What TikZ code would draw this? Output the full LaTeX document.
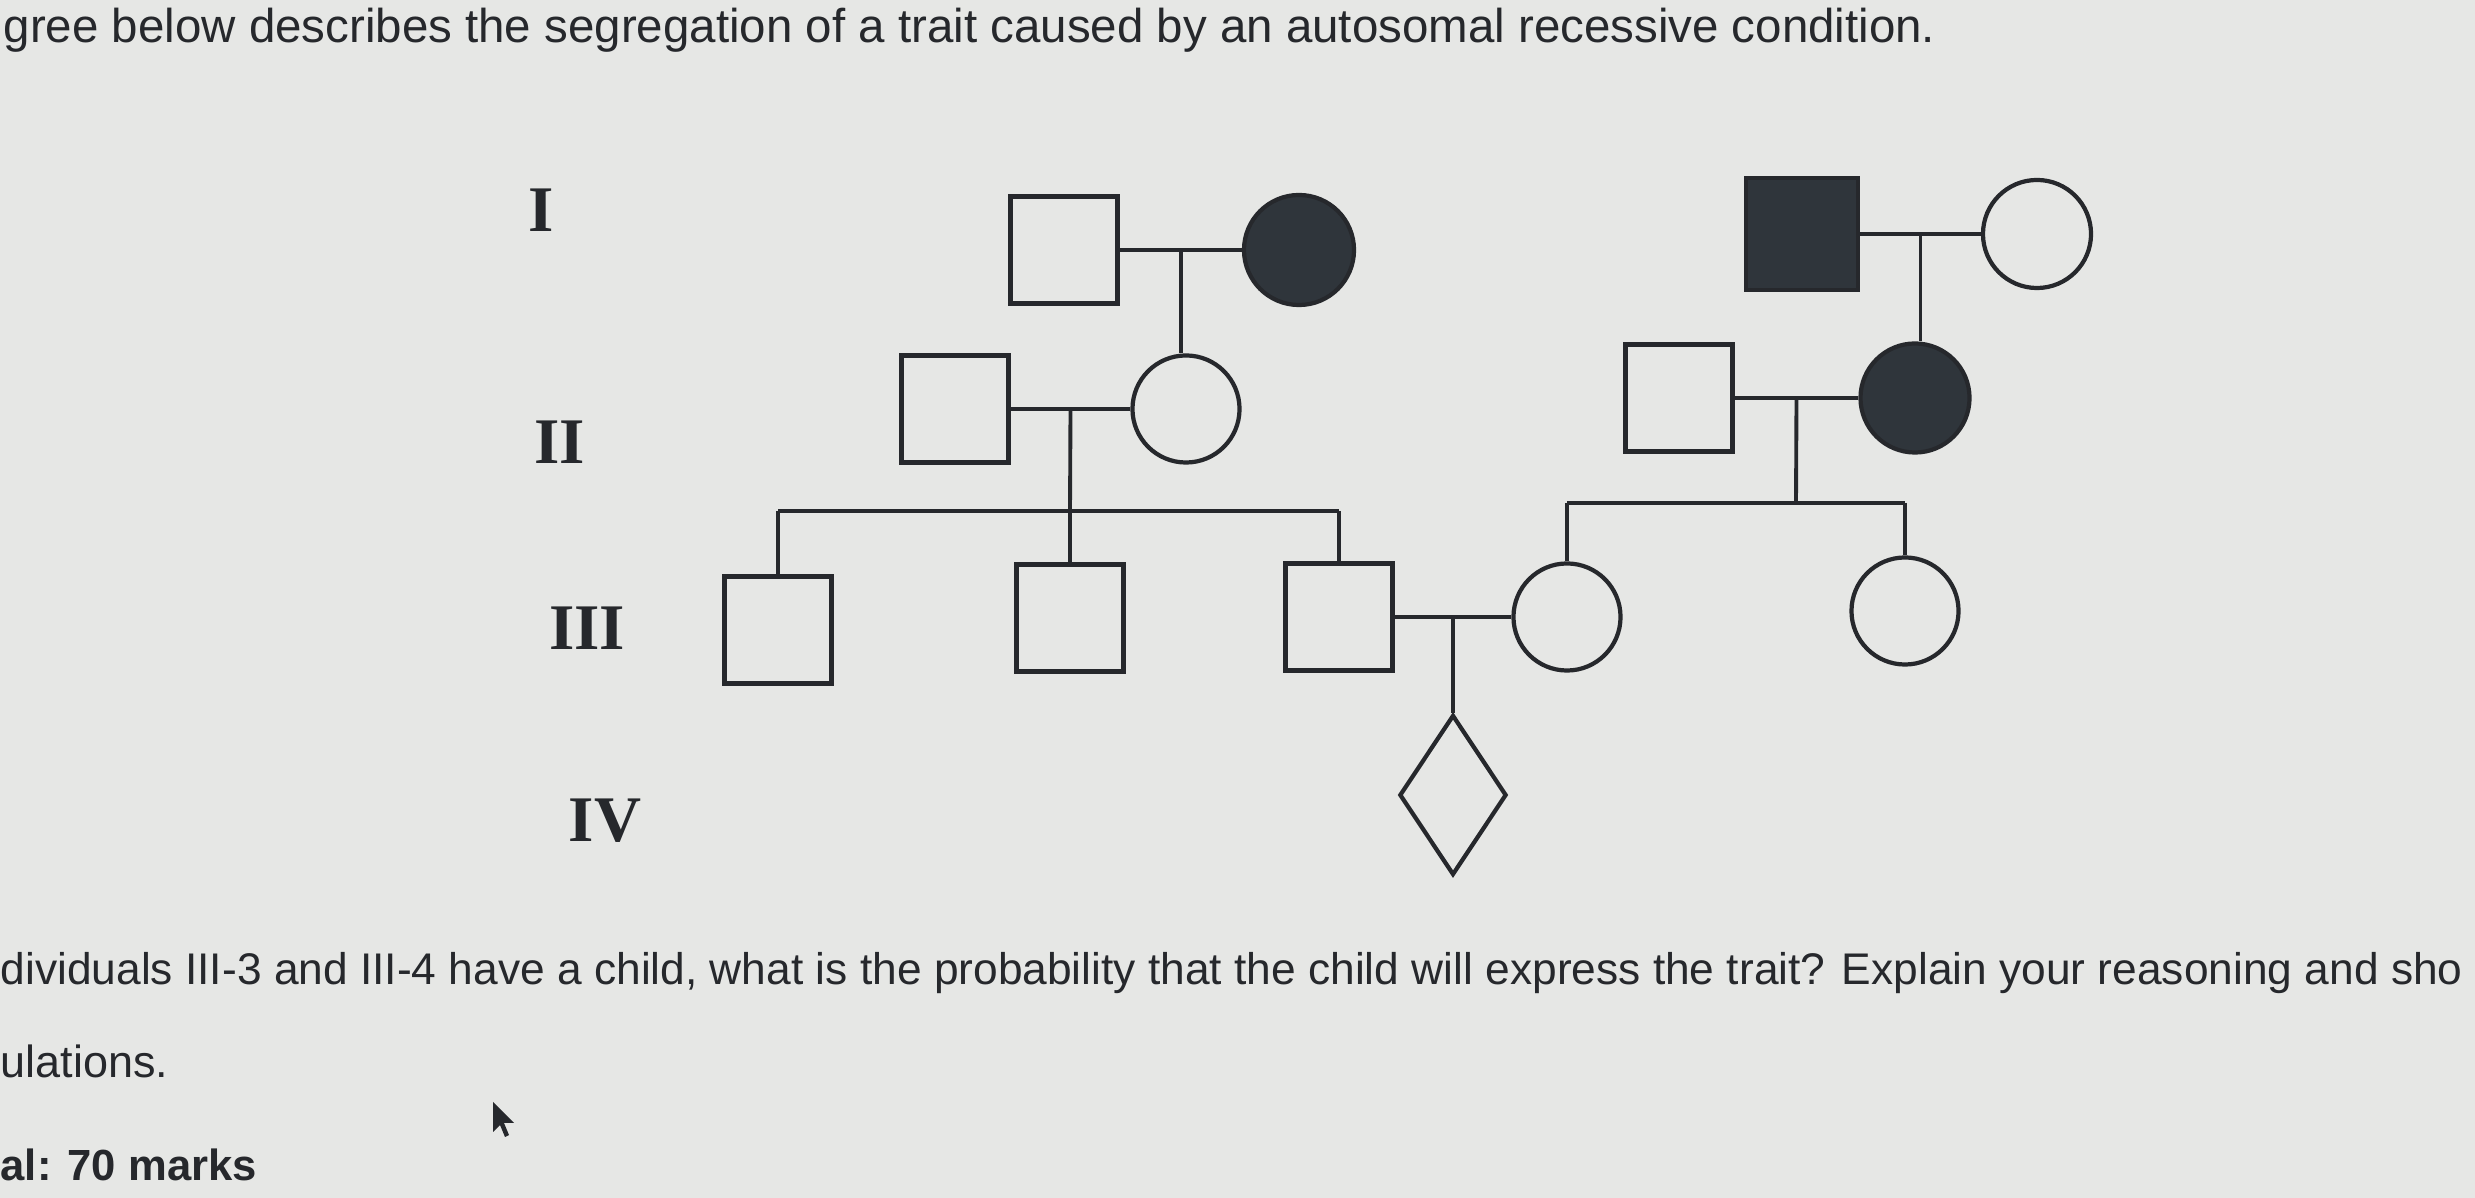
\documentclass[tikz,border=0pt]{standalone}
\usepackage{fontspec}
\setmainfont{Liberation Serif}
\setsansfont{Liberation Sans}
\usetikzlibrary{shapes.geometric,calc}
\definecolor{fond}{RGB}{230,231,229}
\definecolor{encre}{RGB}{38,40,44}
\definecolor{atteint}{RGB}{47,53,59}
\tikzset{
  male/.style={draw=encre,line width=1.2pt,rectangle,minimum size=1.07cm,inner sep=0pt},
  female/.style={draw=encre,line width=1.2pt,circle,minimum size=1.07cm,inner sep=0pt},
  unknown/.style={draw=encre,line width=1.2pt,diamond,minimum width=1.07cm,minimum height=1.6cm,inner sep=0pt},
  affected/.style={fill=atteint},
  lien/.style={draw=encre,line width=1.1pt},
  gen/.style={font=\fontsize{18.5pt}{20pt}\selectfont\bfseries,text=encre},
  enonce/.style={font=\sffamily\fontsize{13.5pt}{16pt}\selectfont,text=encre,anchor=base west,inner sep=0pt}
}
\begin{document}
\begin{tikzpicture}[x=0.01cm,y=-0.01cm]
\fill[fond] (0,0) rectangle (2475,1198);
\useasboundingbox (0,0) rectangle (2475,1198);
% texts of the question
\node[enonce] (t1) at (3,43) {gree below describes the segregation of a trait caused by an autosomal recessive condition.};
\node[enonce,font=\sffamily\fontsize{12.6pt}{16pt}\selectfont] (t2) at (0,985) {dividuals III-3 and III-4 have a child, what is the probability that the child will express the trait? Explain your reasoning and sho};
\node[enonce,font=\sffamily\fontsize{12.8pt}{16pt}\selectfont] (t3) at (0,1078) {ulations.};
\node[enonce,font=\sffamily\bfseries\fontsize{12.4pt}{16pt}\selectfont] (t4) at (0,1181) {al: 70 marks};
% generations
\node[gen] (gI) at (541,210) {I};
\node[gen] (gII) at (560,442) {II};
\node[gen] (gIII) at (587,628) {III};
\node[gen] (gIV) at (605,821) {IV};
% individuals
\node[male] (I1) at (1064,250) {};
\node[female,affected,minimum size=1.10cm] (I2) at (1299,250) {};
\node[male,affected,minimum size=1.12cm] (I3) at (1802,234) {};
\node[female,minimum size=1.08cm] (I4) at (2037,234) {};
\node[male] (II1) at (955,409) {};
\node[female] (II2) at (1186,409) {};
\node[male] (II3) at (1679,398) {};
\node[female,affected,minimum size=1.09cm] (II4) at (1915,398) {};
\node[male] (III1) at (778,630) {};
\node[male] (III2) at (1070,618) {};
\node[male] (III3) at (1339,617) {};
\node[female] (III4) at (1567,617) {};
\node[female] (III5) at (1905,611) {};
\node[unknown] (IV1) at (1453,795) {};
% couples and descent
\draw[lien] (I1.east) -- (I2.west);
\draw[lien] (I3.east) -- (I4.west);
\draw[lien] (II1.east) -- (II2.west);
\draw[lien] (II3.east) -- (II4.west);
\draw[lien] (III3.east) -- (III4.west);
\coordinate (m1) at ($(I1.east)!0.5!(I2.west)$);
\coordinate (m2) at ($(I3.east)!0.5!(I4.west)$);
\coordinate (m3) at ($(II1.east)!0.5!(II2.west)$);
\coordinate (m4) at ($(II3.east)!0.5!(II4.west)$);
\coordinate (m5) at ($(III3.east)!0.5!(III4.west)$);
\draw[lien] (m1) -- (m1 |- II2.north);
\draw[lien] (m2) -- (m2 |- II4.north);
\draw[lien] (m5) -- (IV1.north);
% sibships
\coordinate (s1) at (1070,511);
\coordinate (s2) at (1796,503);
\draw[lien] (m3) -- (s1);
\draw[lien] (m4) -- (s2);
\draw[lien] (III1.north |- s1) -- (III3.north |- s1);
\draw[lien] (III4.north |- s2) -- (III5.north |- s2);
\foreach \k in {III1,III2,III3} \draw[lien] (\k.north |- s1) -- (\k.north);
\foreach \k in {III4,III5} \draw[lien] (\k.north |- s2) -- (\k.north);
% pointer
\fill[encre] (493,1102) -- (493,1132) -- (500,1125) -- (505,1137) -- (509,1135) -- (504,1123) -- (514,1123) -- cycle;
\end{tikzpicture}
\end{document}
